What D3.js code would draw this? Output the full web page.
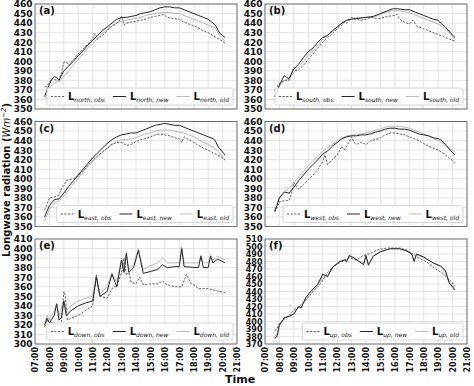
<!DOCTYPE html>
<html>
<head>
<meta charset="utf-8">
<script src="https://cdn.jsdelivr.net/npm/d3@7"></script>
<style>
  html, body { margin: 0; padding: 0; background: #fff; }
  svg { display: block; font-family: "DejaVu Sans", sans-serif; }
</style>
</head>
<body>
<svg id="chart" width="474" height="386"></svg>
<script>
// readings as [time, W m-2]
const northObs = [["07:40",373],["07:50",374],["08:00",378],["08:10",382],["08:20",381],["08:30",380],["08:40",381],["08:50",388],["09:00",399],["09:10",399],["09:20",396],["09:40",402],["10:00",408],["10:20",413],["10:40",418],["11:00",424],["11:10",429],["11:20",423],["11:40",427],["12:00",432],["12:20",437],["12:40",440],["12:50",442],["13:00",447],["13:10",438],["13:20",440],["13:40",441],["14:00",442],["14:20",443],["14:40",444],["15:00",446],["15:20",447],["15:40",448],["15:55",449],["16:10",446],["16:30",445],["17:00",444],["17:20",441],["17:40",439],["18:00",437],["18:20",435],["18:40",432],["19:00",430],["19:20",427],["19:40",424],["20:00",421],["20:10",419]];
const northNew = [["07:40",363],["07:50",370],["08:00",376],["08:10",381],["08:20",384],["08:30",383],["08:40",380],["08:50",385],["09:00",390],["09:20",395],["09:40",400],["10:00",406],["10:20",411],["10:40",417],["11:00",422],["11:20",427],["11:40",432],["12:00",436],["12:20",440],["12:40",444],["13:00",446],["13:20",446],["13:40",447],["14:00",448],["14:20",450],["14:40",451],["15:00",452],["15:20",454],["15:40",456],["16:00",457],["16:20",457],["16:40",456],["17:00",456],["17:20",454],["17:40",452],["18:00",450],["18:20",448],["18:40",446],["19:00",444],["19:20",440],["19:30",438],["19:40",433],["19:50",429],["20:00",427],["20:10",425]];
const northOld = [["07:40",360],["07:50",366],["08:00",372],["08:20",377],["08:40",379],["09:00",384],["09:20",390],["09:40",396],["10:00",402],["10:20",408],["10:40",414],["11:00",419],["11:20",424],["11:40",429],["12:00",433],["12:20",437],["12:40",440],["13:00",442],["13:20",443],["13:40",444],["14:00",445],["14:20",446],["14:40",448],["15:00",449],["15:20",450],["15:40",451],["16:00",451],["16:20",451],["16:40",450],["17:00",450],["17:20",448],["17:40",446],["18:00",444],["18:20",442],["18:40",440],["19:00",438],["19:20",436],["19:30",435],["19:40",430],["20:00",424],["20:10",421]];

const southObs = [["07:40",370],["07:50",373],["08:00",377],["08:20",380],["08:40",380],["08:50",387],["09:00",394],["09:10",390],["09:20",391],["09:40",396],["10:00",402],["10:20",408],["10:40",414],["11:00",420],["11:20",425],["11:40",429],["12:00",434],["12:20",438],["12:30",441],["12:40",440],["13:00",446],["13:20",444],["13:40",443],["14:00",444],["14:20",446],["14:40",445],["15:00",445],["15:30",447],["16:00",448],["16:10",449],["16:20",444],["16:40",441],["17:00",439],["17:15",443],["17:30",437],["18:00",434],["18:20",432],["18:40",430],["19:00",428],["19:20",426],["19:40",424],["20:00",422],["20:10",421]];
const southNew = [["07:40",363],["07:50",368],["08:00",375],["08:20",385],["08:30",383],["08:40",382],["09:00",392],["09:20",397],["09:40",404],["10:00",410],["10:20",414],["10:40",420],["11:00",425],["11:20",427],["11:40",432],["12:00",436],["12:20",440],["12:40",443],["13:00",444],["13:30",445],["14:00",446],["14:30",447],["15:00",450],["15:30",453],["15:50",455],["16:10",455],["16:40",454],["17:00",454],["17:20",452],["17:40",450],["18:00",448],["18:20",446],["18:40",444],["19:00",443],["19:10",440],["19:30",436],["19:50",430],["20:10",425]];
const southOld = [["07:40",364],["07:50",370],["08:00",374],["08:20",380],["08:40",381],["09:00",388],["09:20",394],["09:40",400],["10:00",406],["10:20",411],["10:40",417],["11:00",423],["11:20",427],["11:40",431],["12:00",435],["12:20",440],["12:40",443],["13:00",445],["13:30",446],["14:00",446],["14:30",446],["15:00",449],["15:30",452],["15:50",453],["16:10",453],["16:40",452],["17:00",451],["17:20",449],["17:40",447],["18:00",445],["18:20",443],["18:40",441],["19:00",439],["19:20",436],["19:40",431],["20:00",426],["20:10",423]];

const eastObs = [["07:40",367],["07:50",373],["08:00",380],["08:20",381],["08:40",383],["08:50",390],["09:00",393],["09:10",398],["09:20",399],["09:40",400],["10:00",403],["10:20",408],["10:40",414],["11:00",420],["11:20",424],["11:40",428],["12:00",432],["12:20",436],["12:40",438],["13:00",438],["13:20",435],["13:40",436],["14:00",439],["14:20",441],["14:40",442],["15:00",444],["15:20",446],["15:40",447],["16:00",446],["16:20",445],["16:40",443],["17:00",442],["17:10",438],["17:20",444],["17:40",441],["18:00",438],["18:20",435],["18:40",432],["19:00",430],["19:20",427],["19:40",425],["20:00",422],["20:10",420]];
const eastNew = [["07:40",360],["07:50",366],["08:00",372],["08:20",378],["08:40",379],["09:00",385],["09:20",392],["09:40",398],["10:00",404],["10:20",410],["10:40",416],["11:00",422],["11:20",427],["11:40",432],["12:00",437],["12:20",441],["12:40",444],["13:00",446],["13:20",447],["13:40",448],["14:00",448],["14:20",450],["14:40",452],["15:00",454],["15:20",456],["15:40",457],["16:00",458],["16:20",457],["16:40",456],["17:00",456],["17:20",454],["17:40",452],["18:00",450],["18:20",448],["18:40",446],["19:00",444],["19:20",442],["19:30",440],["19:40",434],["20:00",428],["20:10",425]];
const eastOld = [["07:40",356],["07:50",362],["08:00",368],["08:20",374],["08:40",377],["09:00",382],["09:20",388],["09:40",395],["10:00",401],["10:20",407],["10:40",413],["11:00",418],["11:20",423],["11:40",428],["12:00",432],["12:20",436],["12:40",439],["13:00",441],["13:20",441],["13:40",442],["14:00",443],["14:20",445],["14:40",447],["15:00",448],["15:20",450],["15:40",451],["16:00",451],["16:20",451],["16:40",450],["17:00",449],["17:20",448],["17:40",446],["18:00",444],["18:20",441],["18:40",438],["19:00",436],["19:20",433],["19:40",429],["20:00",423],["20:10",419]];

const westObs = [["07:40",365],["07:50",370],["08:00",376],["08:20",377],["08:40",377],["08:50",385],["09:00",396],["09:10",392],["09:20",389],["09:40",394],["10:00",399],["10:20",404],["10:40",410],["11:00",418],["11:10",425],["11:20",415],["11:40",420],["12:00",425],["12:20",434],["12:30",430],["12:40",434],["13:00",444],["13:10",438],["13:20",436],["13:40",438],["14:00",436],["14:20",440],["14:40",441],["15:00",443],["15:20",446],["15:40",448],["16:00",448],["16:20",447],["16:40",446],["17:00",444],["17:20",442],["17:40",440],["18:00",437],["18:20",434],["18:40",432],["19:00",430],["19:20",427],["19:40",423],["20:00",419],["20:10",416]];
const westNew = [["07:40",366],["07:50",372],["08:00",380],["08:20",386],["08:40",385],["09:00",391],["09:20",398],["09:40",404],["10:00",410],["10:20",415],["10:40",420],["11:00",426],["11:20",429],["11:40",434],["12:00",438],["12:20",442],["12:40",444],["13:00",445],["13:20",445],["13:40",446],["14:00",446],["14:20",447],["14:40",449],["15:00",450],["15:20",452],["15:40",453],["16:00",453],["16:20",452],["16:40",452],["17:00",451],["17:20",449],["17:40",447],["18:00",446],["18:20",445],["18:40",443],["19:00",442],["19:10",441],["19:30",436],["19:50",430],["20:10",425]];
const westOld = [["07:40",368],["07:50",375],["08:00",381],["08:20",386],["08:40",390],["09:00",396],["09:20",402],["09:40",408],["10:00",414],["10:20",419],["10:40",424],["11:00",429],["11:20",432],["11:40",436],["12:00",440],["12:20",443],["12:40",445],["13:00",446],["13:20",446],["13:40",447],["14:00",448],["14:20",449],["14:40",451],["15:00",452],["15:20",454],["15:40",455],["16:00",455],["16:20",455],["16:40",454],["17:00",453],["17:20",451],["17:40",449],["18:00",447],["18:20",445],["18:40",442],["19:00",440],["19:20",437],["19:40",433],["20:00",430],["20:10",428]];

const downObs = [["07:40",318],["07:50",325],["08:00",323],["08:20",322],["08:40",319],["08:50",322],["09:00",355],["09:05",352],["09:15",325],["09:30",327],["10:00",330],["10:30",335],["11:00",340],["11:15",372],["11:30",350],["12:00",348],["12:20",358],["12:30",360],["12:40",360],["13:00",375],["13:10",390],["13:20",372],["13:30",375],["13:40",365],["14:00",363],["14:15",370],["14:30",362],["15:00",363],["15:30",363],["15:50",366],["16:10",362],["16:40",360],["17:10",360],["17:30",373],["17:50",363],["18:00",362],["18:20",358],["19:00",358],["19:30",356],["20:10",354]];
const downNew = [["07:40",320],["07:50",327],["08:00",322],["08:20",330],["08:30",342],["08:40",325],["08:50",328],["09:00",345],["09:10",330],["09:30",335],["10:00",340],["10:30",343],["11:00",345],["11:15",370],["11:30",350],["12:00",355],["12:20",373],["12:40",360],["13:00",388],["13:10",375],["13:20",395],["13:30",375],["13:50",380],["14:10",398],["14:30",374],["15:00",376],["15:30",378],["15:50",383],["16:10",380],["16:40",381],["17:00",381],["17:10",400],["17:20",381],["18:20",380],["18:30",392],["18:40",380],["19:00",380],["19:10",392],["19:20",385],["19:40",389],["20:10",385]];
const downOld = [["07:40",322],["07:50",330],["08:00",325],["08:20",335],["08:30",343],["08:40",330],["09:00",345],["09:10",335],["09:30",340],["10:00",345],["10:30",348],["11:00",350],["11:15",372],["11:30",352],["12:00",360],["12:20",375],["12:40",365],["13:00",390],["13:10",380],["13:20",395],["13:30",378],["13:50",383],["14:10",400],["14:30",378],["15:00",382],["15:30",385],["15:50",390],["16:10",385],["17:00",385],["17:10",402],["17:20",385],["18:20",385],["18:30",393],["18:40",385],["19:00",385],["19:10",393],["19:20",388],["19:40",392],["20:10",388]];

const upObs = [["07:40",388],["07:50",390],["08:00",398],["08:20",403],["08:40",408],["09:00",415],["09:40",425],["10:20",440],["10:50",450],["11:10",460],["11:20",465],["11:50",475],["12:20",480],["12:50",485],["13:20",482],["13:50",488],["14:20",491],["14:50",496],["15:30",498],["16:20",498],["17:00",494],["17:30",486],["18:10",480],["18:50",470],["19:20",464],["19:50",455],["20:10",447]];
const upNew = [["07:40",378],["07:50",380],["08:00",395],["08:20",405],["08:40",407],["09:00",410],["09:20",420],["09:30",418],["09:50",432],["10:10",440],["10:40",450],["11:00",463],["11:20",460],["11:40",472],["12:10",480],["12:30",482],["12:40",480],["12:50",488],["13:10",485],["13:30",480],["13:50",476],["14:00",488],["14:10",475],["14:30",487],["15:00",493],["15:40",497],["16:20",497],["16:50",494],["17:10",490],["17:20",480],["17:30",490],["18:00",486],["18:40",478],["19:10",474],["19:30",468],["19:45",452],["20:10",442]];
const upOld = [["07:40",380],["07:50",383],["08:00",396],["08:20",404],["08:40",406],["09:00",411],["09:20",419],["09:30",419],["09:50",430],["10:10",438],["10:40",448],["11:00",460],["11:20",461],["11:40",471],["12:10",479],["12:30",482],["12:40",481],["12:50",487],["13:10",485],["13:30",481],["13:50",478],["14:00",487],["14:10",477],["14:30",487],["15:00",493],["15:40",497],["16:20",497],["16:50",494],["17:10",490],["17:20",482],["17:30",489],["18:00",485],["18:40",478],["19:10",473],["19:30",467],["19:45",454],["20:10",444]];

const panels = [
    {tag: "(a)", sub: "north", yDomain: [350, 460], series: [northObs, northNew, northOld]},
    {tag: "(b)", sub: "south", yDomain: [350, 460], series: [southObs, southNew, southOld]},
    {tag: "(c)", sub: "east",  yDomain: [350, 460], series: [eastObs, eastNew, eastOld]},
    {tag: "(d)", sub: "west",  yDomain: [350, 460], series: [westObs, westNew, westOld]},
    {tag: "(e)", sub: "down",  yDomain: [300, 410], series: [downObs, downNew, downOld]},
    {tag: "(f)", sub: "up",    yDomain: [370, 510], series: [upObs, upNew, upOld]}
];
const seriesKeys = ["obs", "new", "old"];
const timeDomain = ["07:00", "21:00"];

// styles for obs / new / old
const lineStyle = [
    {stroke: "#444", width: 0.85, dash: "2.2,1.4"},
    {stroke: "#262626", width: 1.0, dash: null},
    {stroke: "#ababab", width: 0.85, dash: null}
];

const parseTime = d3.timeParse("%H:%M");
const svg = d3.select("#chart");

const colX = [35, 265];
const rowY = [4, 121.5, 239];
const pw = 202, ph = 105;

const x = d3.scaleTime()
    .domain(timeDomain.map(parseTime))
    .range([0, pw]);

panels.forEach((p, i) => {
    const g = svg.append("g")
        .attr("transform", `translate(${colX[i % 2]},${rowY[Math.floor(i / 2)]})`);

    const y = d3.scaleLinear().domain(p.yDomain).range([ph, 0]);
    const yTicks = d3.range(p.yDomain[0], p.yDomain[1] + 1, 10);
    const xTicks = d3.timeHour.range(x.domain()[0], d3.timeMinute.offset(x.domain()[1], 1));
    const tickFont = yTicks.length > 12 ? "8px" : "9px";

    // grid
    g.append("g").selectAll("line").data(xTicks).join("line")
        .attr("x1", d => x(d)).attr("x2", d => x(d))
        .attr("y1", 0).attr("y2", ph)
        .attr("stroke", "#dcdcdc").attr("stroke-width", 0.8);
    g.append("g").selectAll("line").data(yTicks).join("line")
        .attr("x1", 0).attr("x2", pw)
        .attr("y1", d => y(d)).attr("y2", d => y(d))
        .attr("stroke", "#dcdcdc").attr("stroke-width", 0.8);

    // y axis
    const yAxis = g.append("g")
        .call(d3.axisLeft(y).tickValues(yTicks).tickSize(0).tickPadding(2.5));
    yAxis.select(".domain").remove();
    yAxis.selectAll("text")
        .style("font-size", tickFont).style("font-weight", "bold")
        .style("font-family", "'DejaVu Sans', sans-serif")
        .attr("fill", "#111");

    // x axis on the bottom row only
    if (i >= 4) {
        const xAxis = g.append("g")
            .attr("transform", `translate(0,${ph})`)
            .call(d3.axisBottom(x).tickValues(xTicks).tickFormat(d3.timeFormat("%H:%M")).tickSize(0));
        xAxis.select(".domain").remove();
        xAxis.selectAll("text")
            .attr("transform", "rotate(-90)")
            .attr("x", -3).attr("y", 0).attr("dy", "0.35em")
            .attr("text-anchor", "end")
            .style("font-size", "8px").style("font-weight", "bold")
            .style("font-family", "'DejaVu Sans', sans-serif")
            .attr("fill", "#111");
    }

    const line = d3.line()
        .x(d => x(parseTime(d[0])))
        .y(d => y(d[1]));

    // draw old first, then obs, then new on top
    [2, 0, 1].forEach(k => {
        g.append("path")
            .datum(p.series[k])
            .attr("fill", "none")
            .attr("stroke", lineStyle[k].stroke)
            .attr("stroke-width", lineStyle[k].width)
            .attr("stroke-dasharray", lineStyle[k].dash)
            .attr("d", line);
    });

    // frame
    g.append("rect")
        .attr("width", pw).attr("height", ph)
        .attr("fill", "none").attr("stroke", "#555").attr("stroke-width", 0.8);

    // panel tag
    g.append("text")
        .attr("x", 4).attr("y", 10)
        .style("font-size", "10px").style("font-weight", "bold")
        .attr("fill", "#111")
        .text(p.tag);

    // legend
    const leg = g.append("g");
    const box = leg.append("rect")
        .attr("fill", "#fff").attr("fill-opacity", 0.85)
        .attr("stroke", "#ccc").attr("stroke-width", 0.8).attr("rx", 1.5);
    let cx = 4;
    seriesKeys.forEach((key, k) => {
        leg.append("line")
            .attr("x1", cx).attr("x2", cx + 13)
            .attr("y1", 0).attr("y2", 0)
            .attr("stroke", lineStyle[k].stroke)
            .attr("stroke-width", lineStyle[k].width)
            .attr("stroke-dasharray", lineStyle[k].dash);
        cx += 17;
        const t = leg.append("text")
            .attr("x", cx).attr("y", 3.5)
            .attr("fill", "#111");
        t.append("tspan")
            .style("font-size", "10px").style("font-weight", "bold")
            .text("L");
        t.append("tspan")
            .attr("dy", 2)
            .style("font-size", "6px").style("font-style", "italic")
            .text(`${p.sub}, ${key}`);
        cx += t.node().getComputedTextLength() + 8;
    });
    const lw = cx - 4, lh = 17;
    box.attr("x", 0).attr("y", -lh / 2).attr("width", lw).attr("height", lh);
    leg.attr("transform", `translate(${pw - 4 - lw},${ph - 4 - lh / 2})`);
});

// shared y label
const yl = svg.append("text")
    .attr("transform", "translate(10,180) rotate(-90)")
    .attr("text-anchor", "middle")
    .style("font-size", "10px").style("font-weight", "bold")
    .attr("fill", "#111");
yl.append("tspan").text("Longwave radiation (");
yl.append("tspan").style("font-style", "italic").style("font-weight", "normal").text("Wm");
yl.append("tspan").attr("dy", -4).style("font-size", "7px").style("font-style", "italic").style("font-weight", "normal").text("−2");
yl.append("tspan").attr("dy", 4).text(")");

// shared x label
svg.append("text")
    .attr("x", 240).attr("y", 383)
    .attr("text-anchor", "middle")
    .style("font-size", "11px").style("font-weight", "bold")
    .attr("fill", "#111")
    .text("Time");
</script>
</body>
</html>
